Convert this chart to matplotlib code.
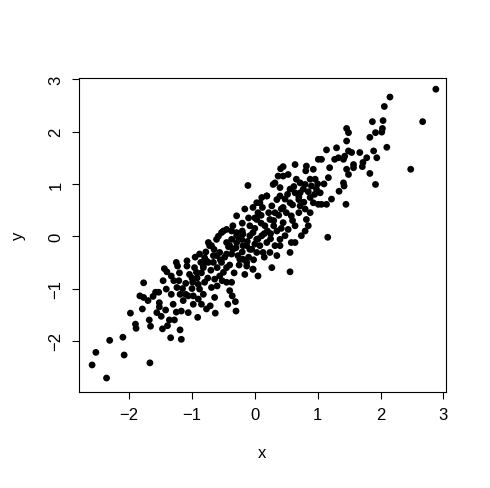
import matplotlib
matplotlib.use("Agg")
import matplotlib.pyplot as plt
import numpy as np

plt.rcParams['font.family'] = ['Liberation Sans', 'DejaVu Sans']

# points (x, y)
lower_pts = [
    (-2.36, -2.71), (-2.59, -2.46), (-2.53, -2.22), (-2.31, -1.99), (-2.10, -1.93),
    (-2.08, -2.27), (-1.67, -2.42), (-1.98, -1.47), (-1.90, -1.68), (-1.89, -1.76),
    (-1.77, -0.89), (-1.68, -1.60), (-1.66, -1.72), (-1.34, -1.94), (-1.17, -1.97),
    (-1.19, -1.79), (-1.47, -1.77), (-1.39, -1.71), (-1.36, -1.60), (-1.28, -1.60),
    (-1.49, -1.53), (-1.56, -1.46), (-1.42, -1.41), (-1.79, -1.39), (-1.83, -1.14),
    (-1.77, -1.17), (-1.70, -1.23), (-1.58, -1.07), (-1.53, -1.07), (-1.52, -1.27),
    (-1.46, -0.85), (-1.44, -0.62), (-1.40, -0.68), (-1.25, -0.50), (-1.23, -0.57),
    (-1.33, -0.76), (-1.29, -0.85), (-1.21, -0.85), (-1.41, -1.01), (-1.33, -1.11),
    (-1.24, -0.98), (-1.19, -1.11), (-1.10, -1.11), (-1.06, -1.14), (-1.14, -1.23),
    (-1.17, -1.43), (-1.06, -1.46), (-0.98, -1.30), (-0.91, -1.55), (-0.98, -1.14),
    (-0.90, -1.20), (-0.82, -1.11), (-0.88, -1.01), (-0.77, -1.39), (-0.71, -1.33),
    (-0.64, -1.17), (-0.63, -1.47), (-0.43, -1.30), (-0.36, -1.14), (-0.31, -1.25),
    (-0.30, -1.43), (-0.40, -1.04), (-0.45, -0.88), (-0.37, -0.88), (-0.64, -0.82),
    (-0.69, -0.98), (-0.80, -0.88), (-0.90, -0.92), (-0.99, -0.88), (-1.04, -0.73),
    (-1.08, -0.57), (-1.08, -0.47), (-0.96, -0.60), (-0.93, -0.69), (-0.86, -0.50),
    (-0.74, -0.50), (-0.66, -0.50), (-0.74, -0.12), (-0.69, -0.18), (-0.88, -0.34),
    (-0.80, -0.41), (-0.61, -0.37), (-0.53, -0.50), (-0.50, -0.69), (-0.56, -0.76),
    (-0.45, -0.34), (-0.37, -0.34), (-0.27, -0.37), (-0.19, -0.44), (-0.13, -0.57),
    (-0.03, -0.63), (-0.16, -0.73), (-0.45, -0.12), (-0.37, -0.06), (-0.29, -0.12),
    (-0.21, -0.06), (-0.13, -0.18), (-0.05, -0.25), (0.03, -0.31), (-0.50, 0.10),
    (-0.37, 0.10), (-0.29, 0.07), (-0.19, 0.04), (-0.08, 0.01), (0.03, -0.06),
    (-1.20, -0.70), (-1.00, -0.80), (-0.85, -0.70), (-0.75, -0.80), (-0.60, -0.60),
    (-0.55, -0.45), (-0.95, -0.40), (-1.10, -0.90), (-0.70, -0.65), (-0.45, -0.60),
    (-1.15, -1.00), (-1.00, -1.00), (-0.92, -0.80), (-0.82, -0.60), (-0.78, -0.30),
    (-0.65, -0.25), (-0.60, -0.95), (-0.52, -0.85), (-0.48, -0.40), (-0.40, -0.55),
    (-0.33, -0.70), (-0.25, -0.55), (-0.20, -0.30), (-0.10, -0.40), (-0.02, -0.45),
    (-0.58, 0.00), (-0.42, -0.20), (-0.30, -0.22), (-0.12, -0.10), (0.00, -0.15),
    (-1.30, -1.30), (-1.25, -1.45), (-1.52, -1.35), (-1.62, -1.15), (-0.85, -1.30),
]
upper_pts = [
    (2.88, 2.81), (2.67, 2.19), (2.48, 1.28), (2.15, 2.66), (2.06, 2.48),
    (1.87, 2.19), (2.04, 2.21), (1.92, 1.98), (2.03, 2.06), (2.02, 1.99),
    (1.83, 1.89), (2.10, 1.70), (1.89, 1.63), (1.94, 1.50), (1.83, 1.20),
    (1.92, 0.99), (1.78, 1.50), (1.72, 1.41), (1.71, 1.33), (1.67, 1.60),
    (1.46, 2.06), (1.49, 1.98), (1.46, 1.82), (1.49, 1.63), (1.54, 1.60),
    (1.43, 1.53), (1.41, 1.47), (1.30, 1.69), (1.33, 1.50), (1.27, 1.47),
    (1.57, 1.37), (1.57, 1.31), (1.46, 1.28), (1.49, 1.18), (1.41, 1.02),
    (1.42, 0.96), (1.34, 0.86), (1.45, 0.61), (1.14, 1.65), (1.16, -0.02),
    (1.01, 1.47), (1.06, 1.47), (1.19, 1.31), (1.17, 1.12), (-0.11, 0.97),
    (1.22, 0.71), (1.14, 0.61), (1.06, 0.61), (0.64, 1.37), (0.45, 1.33),
    (0.41, 1.29), (0.82, 1.34), (0.81, 1.25), (0.93, 1.28), (0.37, 1.15),
    (0.45, 1.15), (0.53, 1.18), (0.32, 1.02), (0.40, 0.93), (0.66, 1.09),
    (0.72, 1.02), (0.80, 0.99), (0.88, 1.09), (0.96, 1.09), (0.90, 0.96),
    (0.98, 0.90), (1.04, 0.83), (0.56, 0.90), (0.64, 0.83), (0.72, 0.83),
    (0.77, 0.90), (0.19, 0.77), (0.11, 0.74), (0.03, 0.64), (0.29, 0.99),
    (0.40, 0.77), (0.48, 0.71), (0.56, 0.64), (0.88, 0.74), (0.93, 0.64),
    (1.01, 0.61), (0.72, 0.58), (0.80, 0.52), (0.88, 0.45), (0.82, 0.32),
    (0.85, 0.20), (0.80, 0.10), (0.74, 0.01), (0.42, 0.52), (0.50, 0.45),
    (0.58, 0.39), (0.64, 0.20), (0.45, 0.26), (0.53, 0.13), (0.48, 0.01),
    (0.58, -0.12), (0.64, -0.12), (0.40, -0.06), (0.32, -0.18), (0.56, -0.31),
    (0.56, -0.68), (0.27, -0.60), (0.05, -0.76), (-0.03, -0.63), (-0.16, 0.52),
    (-0.29, 0.39), (-0.35, 0.20), (-0.45, 0.13), (-0.53, 0.07), (-0.03, 0.55),
    (0.08, 0.64), (0.19, 0.77), (0.27, 0.58), (0.32, 0.45), (0.24, 0.32),
    (0.16, 0.20), (0.03, 0.32), (-0.08, 0.20), (-0.03, 0.07), (0.11, 0.01),
    (0.19, -0.12), (0.08, -0.18), (-0.08, -0.25), (-0.19, -0.18), (-0.29, 0.01),
    (-0.40, -0.18), (-0.56, -0.31), (-0.66, -0.37), (-0.77, -0.47), (-0.82, -0.57),
    (-0.72, -0.18), (-0.61, -0.06), (-0.24, -0.44), (-0.13, -0.50), (0.13, -0.31),
    (0.24, -0.31), (0.35, -0.37), (0.40, -0.18), (0.20, 0.10), (0.30, 0.20),
    (0.10, 0.40), (0.35, 0.70), (0.60, 0.60), (0.70, 0.75), (1.10, 1.00),
    (0.25, 0.05), (-0.20, 0.25), (0.00, 0.15), (0.15, -0.40), (-0.35, -0.25),
    (0.05, 0.45), (0.12, 0.55), (0.22, 0.45), (0.30, 0.30), (0.38, 0.40),
    (0.45, 0.55), (0.52, 0.80), (0.62, 0.95), (0.70, 0.70), (0.78, 0.65),
    (0.95, 0.80), (1.00, 1.00), (0.85, 0.85), (0.60, 0.30), (0.70, 0.45),
    (0.15, 0.05), (0.25, -0.05), (0.05, -0.05), (-0.10, 0.35), (-0.20, 0.10),
    (0.35, 0.10), (0.42, 0.15), (0.10, 0.25), (-0.25, -0.05), (0.00, 0.35),
]

xs = np.array([p[0] for p in lower_pts + upper_pts])
ys = np.array([p[1] for p in lower_pts + upper_pts])

fig = plt.figure(figsize=(4.9, 4.89), dpi=100)
ax = fig.add_axes([0.161, 0.196, 0.749, 0.642])
ax.scatter(xs, ys, s=24, c='black', edgecolors='none')
ax.set_xlim(-2.80, 3.04)
ax.set_ylim(-2.98, 3.02)
ax.set_xticks([-2, -1, 0, 1, 2, 3])
ax.set_yticks([-2, -1, 0, 1, 2, 3])
ax.tick_params(labelsize=12, length=5, pad=6)
for lab in ax.get_yticklabels():
    lab.set_rotation(90)
    lab.set_va('center')
ax.set_xlabel('x', fontsize=12, labelpad=16)
ax.set_ylabel('y', fontsize=12, labelpad=16)
fig.savefig('out.png', dpi=100)
